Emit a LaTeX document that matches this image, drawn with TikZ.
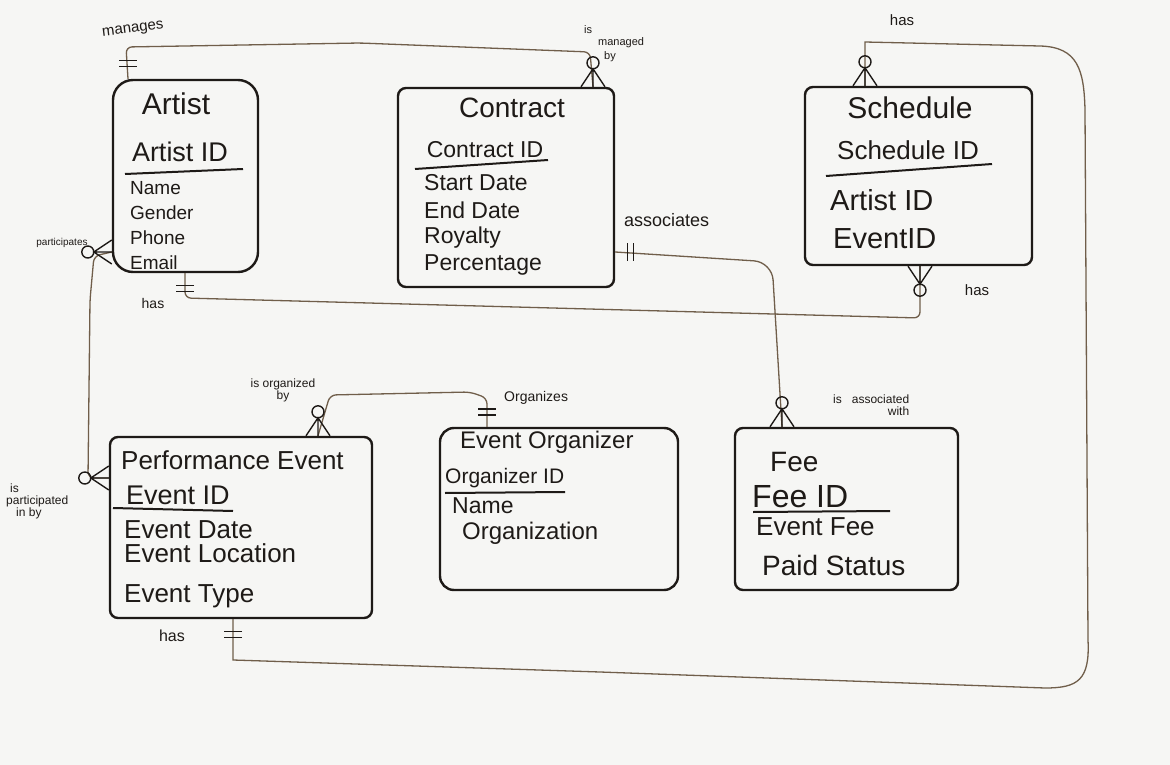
\documentclass[tikz,border=0pt]{standalone}
\usepackage{fontspec}
\setmainfont{Liberation Sans}
\newcommand{\fsz}[1]{\fontsize{#1}{#1}\selectfont}
\definecolor{paper}{RGB}{246,246,244}
\definecolor{ink}{RGB}{30,26,23}
\definecolor{pencil}{RGB}{112,94,74}

\begin{document}
\begin{tikzpicture}[x=1pt, y=-1pt,
    ent/.style={draw=ink, line width=2.4pt, rounded corners=8pt, inner sep=0pt},
    ttl/.style={text=ink, inner sep=0pt},
    attr/.style={text=ink, inner sep=0pt, anchor=west},
    lbl/.style={text=ink, inner sep=0pt, font=\fsz{13}},
    rel/.style={draw=pencil, line width=1.3pt, rounded corners=6pt},
    keyline/.style={draw=ink, line width=2pt},
    one/.pic={\draw[ink, line width=1.4pt] (12,-9) -- (12,9) (18,-9) -- (18,9);},
    zmany/.pic={\draw[ink, line width=1.4pt] (0,-12) -- (18,0) -- (0,12) (0,0) -- (18,0);
                \draw[ink, line width=1.4pt] (24,0) circle (6);}
  ]
    \useasboundingbox (0,0) rectangle (1170,765);
    \fill[paper] (0,0) rectangle (1170,765);

    % Entitäten
    \node[ent, rounded corners=20pt, minimum width=145pt, minimum height=192pt] (artist) at (185.5,176) {};
    \node[ent, minimum width=216pt, minimum height=199pt] (contract) at (506,187.5) {};
    \node[ent, minimum width=227pt, minimum height=178pt] (sched) at (918.5,176) {};
    \node[ent, minimum width=262pt, minimum height=181pt] (perf) at (241,527.5) {};
    \node[ent, rounded corners=14pt, minimum width=238pt, minimum height=162pt] (org) at (559,509) {};
    \node[ent, minimum width=223pt, minimum height=162pt] (fee) at (846.5,509) {};

    % Artist
    \node[ttl, font=\fsz{30}] (artistT) at (176,104) {Artist};
    \node[ttl, font=\fsz{27}] (artistK) at (180,152) {Artist ID};
    \draw[keyline] (125,174) -- (243,169);
    \foreach \a [count=\i] in {Name, Gender, Phone, Email}
        \node[attr, font=\fsz{19}] (artistA\i) at (130,163+25*\i) {\a};

    % Contract
    \node[ttl, font=\fsz{28}] (contractT) at (512,108) {Contract};
    \node[ttl, font=\fsz{23}] (contractK) at (485,150) {Contract ID};
    \draw[keyline] (415,169) -- (548,160);
    \foreach \a [count=\i] in {Start Date, End Date, Royalty, Percentage}
        \node[attr, font=\fsz{23}] (contractA\i) at (424,155+27.5*\i) {\a};

    % Schedule
    \node[ttl, font=\fsz{30}] (schedT) at (910,108) {Schedule};
    \node[ttl, font=\fsz{26}] (schedK) at (908,150) {Schedule ID};
    \draw[keyline] (826,176) -- (992,164);
    \node[attr, font=\fsz{29}] (schedA1) at (830,200) {Artist ID};
    \node[attr, font=\fsz{29}] (schedA2) at (833,239) {EventID};

    % Performance Event
    \node[attr, font=\fsz{26}] (perfT) at (121,460) {Performance Event};
    \node[attr, font=\fsz{27}] (perfK) at (126,495) {Event ID};
    \draw[keyline] (113,508) -- (233,511);
    \foreach \a/\y in {Event Date/530, Event Location/553, Event Type/596}
        \node[attr, font=\fsz{26}] (perfA\y) at (124,\y) {\a};

    % Event Organizer
    \node[attr, font=\fsz{24}] (orgT) at (460,442) {Event Organizer};
    \node[attr, font=\fsz{21}] (orgK) at (445,478) {Organizer ID};
    \draw[keyline] (445,493) -- (565,492);
    \node[attr, font=\fsz{23}] (orgA1) at (452,506) {Name};
    \node[attr, font=\fsz{24}] (orgA2) at (462,533) {Organization};

    % Fee
    \node[attr, font=\fsz{28}] (feeT) at (770,462) {Fee};
    \node[attr, font=\fsz{32}] (feeK) at (752,497) {Fee ID};
    \draw[keyline] (753,512) -- (890,511);
    \node[attr, font=\fsz{26}] (feeA1) at (756,527) {Event Fee};
    \node[attr, font=\fsz{28}] (feeA2) at (762,565) {Paid Status};

    % Beziehungen
    \draw[rel] (128,0 |- artist.north) -- (126,47) -- (360,43) -- (590,52) -- (593,0 |- contract.north);
    \pic[rotate=90] at (128,0 |- artist.north) {one};
    \pic[rotate=90] at (593,0 |- contract.north) {zmany};

    \draw[rel, sharp corners] (865,0 |- sched.north) -- (865,42) -- (1040,46)
        .. controls (1078,47) and (1084,70) .. (1085,110) -- (1088,640)
        .. controls (1090,680) and (1078,688) .. (1045,688) -- (600,672) -- (233,660) -- (233,0 |- perf.south);
    \pic[rotate=90] at (865,0 |- sched.north) {zmany};
    \pic[rotate=-90] at (233,0 |- perf.south) {one};

    \draw[rel] (185,0 |- artist.south) -- (185,298) -- (920,318) -- (920,0 |- sched.south);
    \pic[rotate=-90] at (185,0 |- artist.south) {one};
    \pic[rotate=-90] at (920,0 |- sched.south) {zmany};

    \draw[rel, rounded corners=18pt] (contract.east |- 0,252) -- (772,262) -- (782,0 |- fee.north);
    \pic at (contract.east |- 0,252) {one};
    \pic[rotate=90] at (782,0 |- fee.north) {zmany};

    \draw[rel] (artist.west |- 0,252) -- (94,256) -- (90,300) -- (88,478) -- (perf.west |- 0,478);
    \pic[rotate=180] at (artist.west |- 0,252) {zmany};
    \pic[rotate=180] at (perf.west |- 0,478) {zmany};

    \draw[rel] (487,0 |- org.north) -- (487,398) -- (470,392) -- (330,395) -- (318,0 |- perf.north);
    \pic[rotate=90] at (487,0 |- org.north) {one};
    \pic[rotate=90] at (318,0 |- perf.north) {zmany};

    % Beschriftungen
    \node[lbl, font=\fsz{15}, rotate=7] (manages) at (133,30) {manages};
    \node[lbl, font=\fsz{11}, align=left, anchor=north west] (managedby) at (584,25)
        {is\\[1pt]\hspace{14pt}managed\\[3pt]\hspace{20pt}by};
    \node[lbl, font=\fsz{15}] (hasT) at (902,20) {has};
    \node[lbl, font=\fsz{15}] (hasS) at (977,290) {has};
    \node[lbl, font=\fsz{14}] (hasA) at (153,303) {has};
    \node[lbl, font=\fsz{16}] (hasP) at (172,636) {has};
    \node[lbl, font=\fsz{18}, anchor=west] (assoc) at (624,220) {associates};
    \node[lbl, font=\fsz{12}, align=right, anchor=north west] (assocw) at (833,395) {is\hspace{10pt}associated\\with};
    \node[lbl, font=\fsz{12}, align=center] (orgby) at (283,390) {is organized\\by\hspace{20pt}};
    \node[lbl, font=\fsz{14}, anchor=west] (orgs) at (504,398) {Organizes};
    \node[lbl, font=\fsz{10}] (partic) at (62,243) {participates};
    \node[lbl, font=\fsz{12}, align=left, anchor=north west] (particby) at (6,484)
        {\hspace{4pt}is\\participated\\\hspace{10pt}in by};
\end{tikzpicture}
\end{document}
